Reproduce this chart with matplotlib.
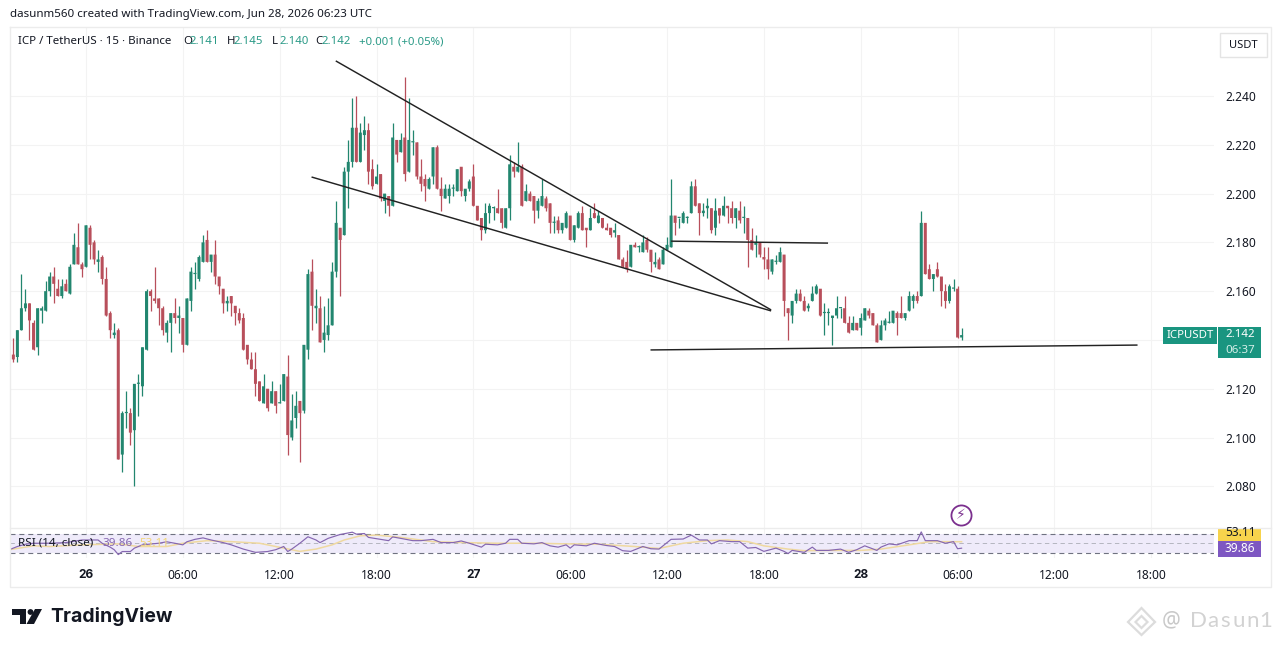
#!/usr/bin/env python3
# -*- coding: utf-8 -*-

import numpy as np
import matplotlib
matplotlib.use('Agg')
import matplotlib.pyplot as plt
from matplotlib.patches import Polygon, Rectangle, Circle

plt.rcParams['font.family'] = ['Noto Sans', 'DejaVu Sans']

# 15 minute candles, first one sits 19 bars before the 26th
first_bar = -19

opens = [2.133,2.134,2.133,2.144,2.153,2.155,2.147,2.137,2.152,2.152,
         2.160,2.166,2.161,2.158,2.163,2.159,2.171,2.178,2.171,2.170,
         2.186,2.180,2.172,2.174,2.165,2.151,2.142,2.144,2.093,2.110,
         2.110,2.103,2.122,2.121,2.136,2.160,2.157,2.157,2.153,2.143,
         2.147,2.151,2.149,2.149,2.138,2.156,2.167,2.165,2.172,2.181,
         2.172,2.175,2.166,2.161,2.155,2.158,2.154,2.151,2.149,2.138,
         2.132,2.128,2.123,2.114,2.120,2.114,2.119,2.114,2.115,2.125,
         2.100,2.108,2.115,2.111,2.136,2.168,2.153,2.153,2.140,2.142,
         2.146,2.168,2.186,2.183,2.209,2.213,2.227,2.213,2.224,2.226,
         2.210,2.204,2.208,2.197,2.199,2.195,2.222,2.217,2.223,2.209,
         2.221,2.221,2.207,2.206,2.202,2.207,2.219,2.202,2.198,2.199,
         2.202,2.201,2.211,2.199,2.202,2.207,2.195,2.190,2.185,2.192,
         2.194,2.194,2.194,2.186,2.194,2.211,2.209,2.211,2.197,2.200,
         2.199,2.193,2.195,2.198,2.196,2.188,2.189,2.185,2.186,2.191,
         2.181,2.186,2.192,2.186,2.185,2.192,2.188,2.190,2.186,2.186,
         2.184,2.183,2.173,2.172,2.170,2.179,2.178,2.176,2.181,2.177,
         2.171,2.173,2.171,2.177,2.178,2.191,2.190,2.188,2.190,2.192,
         2.203,2.196,2.192,2.194,2.194,2.186,2.194,2.191,2.195,2.194,
         2.190,2.193,2.190,2.190,2.181,2.179,2.180,2.174,2.173,2.168,
         2.172,2.172,2.175,2.153,2.150,2.156,2.159,2.156,2.153,2.156,
         2.159,2.161,2.151,2.151,2.149,2.150,2.153,2.153,2.147,2.144,
         2.147,2.145,2.148,2.152,2.151,2.146,2.140,2.146,2.147,2.147,
         2.151,2.151,2.149,2.152,2.156,2.158,2.158,2.188,2.169,2.165,
         2.169,2.166,2.160,2.156,2.161,2.161,2.141]

closes = [2.132,2.132,2.144,2.153,2.155,2.148,2.136,2.153,2.153,2.160,
          2.166,2.163,2.158,2.162,2.160,2.170,2.179,2.171,2.169,2.187,
          2.179,2.173,2.173,2.165,2.150,2.144,2.143,2.091,2.110,2.110,
          2.102,2.122,2.122,2.137,2.160,2.158,2.156,2.153,2.144,2.147,
          2.151,2.149,2.150,2.138,2.157,2.168,2.167,2.174,2.180,2.172,
          2.175,2.166,2.162,2.155,2.156,2.155,2.151,2.148,2.136,2.132,
          2.128,2.122,2.115,2.121,2.112,2.119,2.113,2.114,2.126,2.101,
          2.107,2.113,2.110,2.138,2.167,2.154,2.154,2.139,2.143,2.146,
          2.168,2.188,2.181,2.209,2.213,2.227,2.213,2.225,2.226,2.209,
          2.203,2.207,2.198,2.200,2.195,2.223,2.216,2.222,2.208,2.222,
          2.221,2.207,2.204,2.203,2.206,2.219,2.202,2.199,2.202,2.202,
          2.202,2.210,2.201,2.202,2.205,2.195,2.189,2.185,2.192,2.195,
          2.194,2.192,2.188,2.194,2.212,2.209,2.211,2.195,2.201,2.197,
          2.193,2.197,2.199,2.194,2.188,2.188,2.185,2.188,2.192,2.181,
          2.187,2.192,2.185,2.185,2.190,2.190,2.191,2.186,2.185,2.183,
          2.185,2.173,2.170,2.169,2.179,2.178,2.178,2.180,2.177,2.172,
          2.172,2.169,2.177,2.179,2.191,2.188,2.190,2.192,2.190,2.203,
          2.195,2.192,2.193,2.195,2.185,2.193,2.191,2.195,2.194,2.190,
          2.194,2.189,2.190,2.181,2.177,2.180,2.175,2.173,2.169,2.173,
          2.172,2.176,2.156,2.151,2.156,2.159,2.156,2.152,2.154,2.159,
          2.162,2.150,2.151,2.151,2.150,2.153,2.153,2.147,2.143,2.147,
          2.144,2.149,2.153,2.150,2.146,2.139,2.146,2.148,2.147,2.152,
          2.149,2.149,2.151,2.158,2.158,2.156,2.188,2.167,2.165,2.167,
          2.166,2.160,2.156,2.162,2.161,2.141,2.142]

highs = [2.135,2.141,2.144,2.167,2.161,2.155,2.148,2.153,2.154,2.164,
         2.168,2.170,2.165,2.165,2.165,2.171,2.184,2.188,2.172,2.187,
         2.187,2.181,2.177,2.175,2.170,2.152,2.147,2.145,2.111,2.119,
         2.112,2.122,2.126,2.137,2.161,2.161,2.170,2.157,2.154,2.148,
         2.151,2.157,2.154,2.149,2.157,2.170,2.172,2.175,2.183,2.185,
         2.175,2.181,2.166,2.161,2.158,2.158,2.154,2.153,2.151,2.138,
         2.135,2.135,2.123,2.126,2.120,2.123,2.119,2.122,2.126,2.134,
         2.118,2.119,2.115,2.138,2.169,2.173,2.161,2.158,2.154,2.157,
         2.172,2.197,2.186,2.211,2.222,2.239,2.240,2.229,2.232,2.229,
         2.214,2.212,2.208,2.200,2.199,2.229,2.222,2.225,2.248,2.239,
         2.226,2.221,2.214,2.208,2.207,2.219,2.220,2.207,2.204,2.204,
         2.204,2.210,2.211,2.202,2.206,2.212,2.195,2.190,2.196,2.196,
         2.195,2.202,2.194,2.194,2.216,2.213,2.221,2.212,2.204,2.201,
         2.199,2.198,2.206,2.199,2.196,2.191,2.191,2.188,2.193,2.191,
         2.187,2.193,2.195,2.186,2.194,2.196,2.193,2.190,2.188,2.186,
         2.188,2.183,2.174,2.177,2.179,2.180,2.179,2.183,2.182,2.177,
         2.176,2.174,2.178,2.182,2.206,2.191,2.190,2.193,2.191,2.205,
         2.206,2.196,2.196,2.198,2.194,2.198,2.194,2.199,2.195,2.197,
         2.194,2.197,2.195,2.190,2.186,2.183,2.180,2.178,2.178,2.173,
         2.175,2.178,2.175,2.153,2.156,2.161,2.161,2.158,2.155,2.162,
         2.163,2.161,2.155,2.153,2.150,2.158,2.153,2.158,2.150,2.150,
         2.147,2.151,2.153,2.153,2.151,2.147,2.148,2.149,2.152,2.152,
         2.152,2.158,2.151,2.160,2.159,2.160,2.193,2.188,2.171,2.167,
         2.172,2.166,2.163,2.163,2.165,2.162,2.145]

lows = [2.131,2.131,2.131,2.144,2.152,2.140,2.136,2.134,2.147,2.152,
        2.158,2.155,2.158,2.157,2.160,2.159,2.171,2.171,2.166,2.170,
        2.173,2.171,2.168,2.163,2.150,2.141,2.141,2.091,2.086,2.104,
        2.097,2.080,2.109,2.117,2.136,2.152,2.155,2.146,2.142,2.139,
        2.135,2.147,2.143,2.135,2.138,2.152,2.161,2.164,2.172,2.172,
        2.168,2.163,2.159,2.151,2.152,2.150,2.146,2.147,2.136,2.130,
        2.128,2.117,2.115,2.114,2.111,2.114,2.110,2.114,2.115,2.093,
        2.099,2.104,2.090,2.110,2.132,2.144,2.147,2.139,2.135,2.140,
        2.146,2.166,2.158,2.183,2.194,2.211,2.213,2.213,2.218,2.204,
        2.202,2.204,2.197,2.192,2.191,2.195,2.213,2.217,2.205,2.209,
        2.216,2.206,2.201,2.197,2.202,2.204,2.202,2.193,2.198,2.196,
        2.199,2.201,2.199,2.197,2.201,2.195,2.189,2.181,2.184,2.188,
        2.189,2.192,2.186,2.186,2.189,2.207,2.209,2.195,2.197,2.197,
        2.188,2.190,2.195,2.193,2.184,2.184,2.184,2.184,2.186,2.181,
        2.180,2.186,2.185,2.178,2.185,2.190,2.188,2.186,2.185,2.182,
        2.182,2.173,2.170,2.168,2.170,2.178,2.176,2.176,2.176,2.168,
        2.170,2.169,2.171,2.177,2.178,2.183,2.186,2.188,2.188,2.192,
        2.195,2.183,2.191,2.190,2.184,2.183,2.188,2.191,2.188,2.188,
        2.186,2.188,2.184,2.170,2.177,2.174,2.174,2.169,2.165,2.167,
        2.171,2.172,2.150,2.140,2.147,2.155,2.156,2.152,2.152,2.156,
        2.159,2.150,2.142,2.146,2.138,2.149,2.149,2.147,2.143,2.144,
        2.144,2.142,2.148,2.149,2.146,2.139,2.140,2.144,2.147,2.147,
        2.142,2.149,2.148,2.152,2.153,2.155,2.158,2.167,2.165,2.160,
        2.166,2.154,2.153,2.155,2.160,2.141,2.140]

# RSI read at the turning points of the line
rsi_bars = [-19,-17,-15,-13,-9,-5,-1,3,4,6,7,8,9,11,12,14,18,20,22,24,25,27,29,31,34,36,39,42,45,47,49,50,51,
            53,55,57,58,60,63,66,67,69,70,73,75,76,78,81,83,86,88,91,93,95,98,99,102,104,105,107,108,111,113,
            115,117,119,120,121,124,126,129,131,133,135,138,140,142,145,148,150,152,154,155,157,160,162,164,
            166,168,171,173,174,175,178,180,181,184,187,189,191,193,196,197,199,201,204,206,207,208,211,213,
            215,216,217]
rsi_vals = [36.7,43.3,48,50,50,51.3,56.7,56.7,50,42,36.7,26.7,33,33,40,46.7,50,53,50,46.7,53,58,61,56.7,51.3,46.7,
            38,31.3,33,36.7,43.3,33,38,50,63.3,56.7,51.3,60,68,72.7,68.7,70,62,58,55.3,63,60,55.3,55.3,58,51.3,
            51.3,54.7,50,42,48,46.7,50,58,58,50,48.7,51.3,44.7,42,46.7,40,46.7,44.7,50,45.3,43.3,34.7,33.3,43.3,
            38.7,38,58,58.7,66.7,56.7,56.7,48.7,55.3,53.3,53.3,40,41.3,33.3,40,33.3,28.7,35.3,31.3,42,35.3,35.3,
            38,31.3,36.7,44.7,35.3,42,48.7,46.7,55.3,55.3,73.3,55.3,55.3,50,53.3,38.7,39.86]
ma_bars = [-19,-13,-9,-1,8,13,20,24,30,36,43,49,53,57,61,64,68,72,78,86,94,102,111,119,127,136,142,148,154,159,
           164,168,174,178,185,192,197,204,209,217]
ma_vals = [36.7,44.7,43.3,46.7,48.7,43.3,43.3,50,55.3,53.3,50,40,33.3,38,46.7,56.7,65.3,66.7,62,53.3,51.3,50,50,
           48.7,48,43.3,39.3,50,55.3,56.7,53.3,44.7,38,34.7,35.3,35.3,38,46.7,53.3,53.11]

price_ticks = [2.08, 2.10, 2.12, 2.14, 2.16, 2.18, 2.20, 2.22, 2.24]
# 2.140 sits behind the last price tag
price_labels = ['2.080', '2.100', '2.120', '', '2.160', '2.180', '2.200', '2.220', '2.240']
time_ticks = [0, 24, 48, 72, 96, 120, 144, 168, 192, 216, 240, 264]
time_labels = ['26', '06:00', '12:00', '18:00', '27', '06:00', '12:00', '18:00', '28', '06:00', '12:00', '18:00']

# drawn trendlines, (bar, price) ends
upper_line = ([61.9, 169.8], [2.2544, 2.1523])
lower_line = ([55.9, 169.8], [2.2068, 2.1519])
break_line = ([145, 183.9], [2.1805, 2.1797])
base_line = ([139.9, 260.6], [2.1359, 2.1379])

green = '#22866f'
red = '#b84f5b'
teal = '#1a9580'
gridc = '#f3f3f3'
framec = '#ececec'
textc = '#131722'

W, H = 1281, 647


def px_rect(left, top, right, bottom):
    return [left / W, 1 - bottom / H, (right - left) / W, (bottom - top) / H]


fig = plt.figure(figsize=(W / 100, H / 100), dpi=100, facecolor='white')

ax = fig.add_axes(px_rect(10, 27, 1214, 528))
rsi_ax = fig.add_axes(px_rect(10, 528, 1214, 558), sharex=ax)

bars = np.arange(first_bar, first_bar + len(opens))
o = np.array(opens)
c = np.array(closes)
h = np.array(highs)
l = np.array(lows)
colors = np.where(c >= o, green, red)

ax.vlines(bars, l, h, colors=colors, linewidth=0.9, zorder=3)
body = np.maximum(np.abs(c - o), 0.0005)
candles = ax.bar(bars, body, bottom=np.minimum(o, c), width=0.74, color=colors, linewidth=0, zorder=4)
for p in candles:
    p.set_snap(False)

for xs, ys in [upper_line, lower_line, break_line, base_line]:
    ax.plot(xs, ys, color='#222222', linewidth=1.05, zorder=5, solid_capstyle='butt')

ax.set_xlim(-18.83, 279.55)
ax.set_ylim(2.0629, 2.2683)
ax.set_yticks(price_ticks)
ax.set_yticklabels(price_labels, fontsize=8.6, color=textc)
ax.yaxis.tick_right()
ax.tick_params(axis='y', length=0, pad=8.5)
ax.tick_params(axis='x', length=0, labelbottom=False)
ax.grid(True, color=gridc, linewidth=0.8, zorder=0)
ax.set_axisbelow(True)
for s in ax.spines.values():
    s.set_visible(False)

# alert icon above the last bars
ax.plot([216.9], [2.0682], marker='o', ms=14.5, mfc='white', mec='#7b2f8e', mew=1.3, zorder=6, clip_on=False)
ax.text(216.9, 2.0682, '\u26a1', family='DejaVu Sans', fontsize=10, color='#7b2f8e', ha='center', va='center', zorder=7)

# rsi pane
rsi_ax.axhspan(30, 70, color='#efebfa', linewidth=0, zorder=1)
rsi_ax.axhline(70, color='#6f7280', linewidth=0.8, dashes=(4.5, 3.5), zorder=2)
rsi_ax.axhline(30, color='#6f7280', linewidth=0.8, dashes=(4.5, 3.5), zorder=2)
rsi_ax.axhline(50, color='#b5b6c0', linewidth=0.7, dashes=(4.5, 3.5), zorder=2)
rsi_ax.plot(ma_bars, ma_vals, color='#efd9a0', linewidth=1.1, zorder=3)
rsi_ax.plot(rsi_bars, rsi_vals, color='#8566b0', linewidth=0.85, zorder=4)
rsi_ax.set_ylim(19.7, 81.3)
rsi_ax.set_yticks([])
rsi_ax.set_xticks(time_ticks)
rsi_ax.set_xticklabels(time_labels, fontsize=8.6, color=textc)
for lab, name in zip(rsi_ax.get_xticklabels(), time_labels):
    if ':' not in name:
        lab.set_family('Inter')
        lab.set_fontweight('bold')
rsi_ax.tick_params(axis='x', length=0, pad=8)
rsi_ax.grid(True, axis='x', color=gridc, linewidth=0.8, zorder=0)
rsi_ax.set_axisbelow(True)
for s in rsi_ax.spines.values():
    s.set_visible(False)

# everything else is placed in picture pixels on a sheet over the chart
top = fig.add_axes([0, 0, 1, 1], zorder=10)
top.set_xlim(0, W)
top.set_ylim(H, 0)
top.axis('off')
top.patch.set_alpha(0)

# frame
top.plot([10, 1271, 1271, 10, 10], [27, 27, 587, 587, 27], color=framec, linewidth=1)
top.plot([10, 1271], [528, 528], color=framec, linewidth=1)

top.text(10, 15, 'dasunm560 created with TradingView.com, Jun 28, 2026 06:23 UTC', fontsize=8.3,
         color=textc, va='center')

top.text(18, 42, 'ICP / TetherUS \u00b7 15 \u00b7 Binance', fontsize=8.3, color=textc, va='center')
legend_x = [183, 190, 227, 234, 272, 279, 315, 322, 359]
legend_s = ['O', '2.141', 'H', '2.145', 'L', '2.140', 'C', '2.142', '+0.001 (+0.05%)']
for i in range(len(legend_x)):
    col = textc if len(legend_s[i]) == 1 else '#2a9a87'
    top.text(legend_x[i], 42, legend_s[i], fontsize=8.2, color=col, va='center')

# USDT button
top.add_patch(Rectangle((1220, 33), 47, 24, facecolor='white', edgecolor='#e4e4e4', linewidth=1))
top.text(1243.5, 45, 'USDT', fontsize=8, color=textc, ha='center', va='center')

# last price tags
top.add_patch(Rectangle((1163, 327), 54, 17, facecolor=teal, linewidth=0))
top.add_patch(Rectangle((1218, 327), 43, 31, facecolor=teal, linewidth=0))
top.text(1190, 335.5, 'ICPUSDT', fontsize=8.2, color='white', ha='center', va='center')
top.text(1240, 334.5, '2.142', fontsize=8.3, color='white', ha='center', va='center')
top.text(1240, 350.5, '06:37', fontsize=8.3, color='#d5efe9', ha='center', va='center')

# rsi tags
top.add_patch(Rectangle((1218, 528), 43, 13, facecolor='#f7d34c', linewidth=0))
top.add_patch(Rectangle((1218, 541), 43, 16, facecolor='#7e57c2', linewidth=0))
top.text(1240, 532.5, '53.11', fontsize=8.6, color=textc, ha='center', va='center')
top.text(1240, 549, '39.86', fontsize=8.6, color='white', ha='center', va='center')

top.text(18, 543, 'RSI (14, close)', fontsize=8.4, color=textc, va='center')
top.text(102, 543, '39.86', fontsize=8.4, color='#8566b0', va='center')
top.text(139, 543, '53.11', fontsize=8.4, color='#f2d675', va='center')

# TradingView logo
top.add_patch(Polygon([(12, 609), (26, 609), (26, 624), (19.5, 624), (19.5, 615), (12, 615)], facecolor='#131722', linewidth=0))
top.add_patch(Circle((30.5, 612), 2.9, facecolor='#131722', linewidth=0))
top.add_patch(Polygon([(35, 609), (42, 609), (34, 624), (26.5, 624)], facecolor='#131722', linewidth=0))
top.text(50, 616.5, 'TradingView', fontsize=14, fontweight='bold', family='Inter', color='#131722', va='center')

# watermark
top.add_patch(Polygon([(1141.5, 608), (1155, 622), (1141.5, 635), (1128, 622)], facecolor='none', edgecolor='#dcdcdc', linewidth=1.6))
top.add_patch(Polygon([(1141.5, 616), (1147.5, 622), (1141.5, 628), (1135.5, 622)], facecolor='none', edgecolor='#dcdcdc', linewidth=1.6))
top.text(1162, 621, '@', fontsize=15, color='#c9c9c9', va='center')
dasun_x = [1190, 1207, 1220, 1233, 1246, 1259]
for xx, ch in zip(dasun_x, 'Dasun1'):
    top.text(xx, 621, ch, fontsize=16, color='#d2d2d2', va='center', family='Lato')

fig.savefig('out.png', dpi=100)
